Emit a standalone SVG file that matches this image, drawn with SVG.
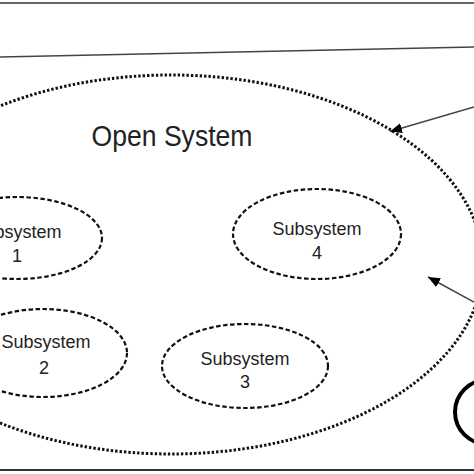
<svg xmlns="http://www.w3.org/2000/svg" width="474" height="474" viewBox="0 0 474 474">
<defs>
<style>
.frame{stroke:#333;fill:none}
.conn{stroke:#444;stroke-width:1.5;fill:none}
.sub{fill:none;stroke:#111;stroke-width:2.2;stroke-dasharray:4.5 2.5}
.open{fill:none;stroke:#111;stroke-width:3;stroke-dasharray:2.4 2}
.lbl{font-family:"Liberation Sans",Arial,sans-serif;fill:#222;text-anchor:middle}
.s{font-size:18px}
</style>
<marker id="ah" markerUnits="userSpaceOnUse" markerWidth="14" markerHeight="12" refX="12" refY="5" orient="auto">
<path d="M0,0 L12,5 L0,10 Z" fill="#000"/>
</marker>
</defs>
<rect width="474" height="474" fill="#fff"/>
<g id="frame">
<line class="frame" x1="0" y1="3" x2="474" y2="3" stroke-width="1.6"/>
<line class="frame" x1="0" y1="470" x2="474" y2="470" stroke-width="2"/>
</g>
<g id="open-system">
<ellipse class="open" cx="171" cy="264.5" rx="312" ry="189.5"/>
<text class="lbl" x="172" y="146" font-size="29" textLength="161" lengthAdjust="spacingAndGlyphs">Open System</text>
</g>
<g id="subsystem1">
<ellipse class="sub" cx="17" cy="238" rx="85" ry="41"/>
<text class="lbl s" x="17" y="238">Subsystem</text>
<text class="lbl s" x="17" y="262">1</text>
</g>
<g id="subsystem2">
<ellipse class="sub" cx="43" cy="353" rx="84" ry="44"/>
<text class="lbl s" x="46" y="348">Subsystem</text>
<text class="lbl s" x="44" y="374">2</text>
</g>
<g id="subsystem3">
<ellipse class="sub" cx="245" cy="366" rx="83" ry="42"/>
<text class="lbl s" x="245" y="365">Subsystem</text>
<text class="lbl s" x="245" y="388">3</text>
</g>
<g id="subsystem4">
<ellipse class="sub" cx="317" cy="234" rx="84" ry="45"/>
<text class="lbl s" x="317" y="235">Subsystem</text>
<text class="lbl s" x="317" y="259">4</text>
</g>
<g id="circle-node">
<circle cx="487" cy="412" r="32" fill="none" stroke="#000" stroke-width="4"/>
</g>
<g id="connectors">
<line class="conn" x1="0" y1="57" x2="474" y2="47"/>
<line class="conn" x1="474" y1="107" x2="390" y2="131.5" marker-end="url(#ah)"/>
<line class="conn" x1="474" y1="302" x2="428" y2="277" marker-end="url(#ah)"/>
</g>
</svg>
